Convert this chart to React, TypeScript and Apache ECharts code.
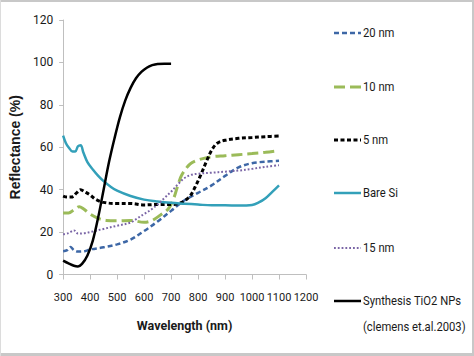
import React, { useEffect, useRef } from "react";
import * as echarts from "echarts";

// ---- Data (wavelength in nm, reflectance in %) ----
const nm20WL = [300, 315, 327, 340, 355, 380, 400, 450, 500, 550, 600, 650, 700, 750, 800, 850, 900, 950, 1000, 1050, 1100];
const nm20R = [11, 11.5, 13, 11.5, 10.8, 11, 11.8, 12.8, 14.2, 16.5, 20.5, 25, 30, 35, 38.5, 42, 46.5, 50.5, 52.5, 53.2, 53.6];

const nm10WL = [300, 320, 340, 360, 375, 400, 430, 460, 500, 550, 600, 630, 660, 690, 710, 725, 740, 770, 800, 850, 900, 950, 1000, 1050, 1100];
const nm10R = [29, 29, 30.5, 32, 31, 28.5, 26.5, 25.5, 25.3, 25.5, 24.6, 25.5, 28, 31, 36, 42, 47, 52, 54, 55.5, 56, 56.5, 57, 57.6, 58.4];

const nm5WL = [300, 315, 330, 350, 365, 380, 400, 420, 450, 500, 550, 600, 650, 700, 740, 770, 790, 810, 830, 850, 870, 900, 950, 1000, 1050, 1100];
const nm5R = [37, 36.5, 36.5, 38.5, 40, 39, 37.5, 35.5, 34, 33.5, 33.5, 32.8, 33, 33, 34, 37, 41.5, 47, 53, 58.5, 61.8, 63.3, 64.2, 64.6, 65, 65.3];

const bareWL = [300, 310, 320, 335, 345, 355, 365, 375, 390, 410, 430, 450, 475, 500, 550, 600, 650, 700, 750, 800, 850, 900, 950, 1000, 1025, 1050, 1075, 1100];
const bareR = [65.5, 62, 60, 58, 58, 60.5, 61, 57.5, 53, 49.5, 46.5, 44, 41.5, 39.5, 37, 35.3, 34.4, 33.8, 33.4, 33, 32.6, 32.6, 32.5, 32.8, 34, 36, 39, 42];

const nm15WL = [300, 320, 340, 355, 380, 400, 450, 500, 550, 575, 600, 625, 650, 675, 700, 725, 750, 775, 800, 850, 900, 950, 1000, 1050, 1100];
const nm15R = [19, 19.5, 20.8, 19.3, 19.5, 20, 21.5, 23, 24.5, 26.5, 28.5, 30.5, 33, 36, 39, 42.5, 45.5, 47, 47.5, 48, 48.5, 49, 49.8, 50.8, 51.5];

const tio2WL = [300, 320, 340, 355, 370, 390, 410, 430, 450, 470, 490, 510, 530, 550, 570, 590, 610, 630, 650, 675, 700];
const tio2R = [6.5, 5.2, 4.1, 3.8, 5, 9, 16, 27, 40, 53, 64, 74, 82, 88, 92.5, 95.5, 97.5, 98.7, 99.3, 99.4, 99.4];

const xTicks = { min: 300, max: 1200, interval: 100 };
const yTicks = { min: 0, max: 120, interval: 20 };

const zip = (xs: number[], ys: number[]) => xs.map((x, i) => [x, ys[i]]);

const SANS = "Roboto, 'Liberation Sans', sans-serif";
const WIDE = "'Liberation Sans', Arial, sans-serif";

type S = { name: string; wl: number[]; r: number[]; color: string; width: number; type: any; label: string[] };
const seriesDefs: S[] = [
  { name: "20 nm", wl: nm20WL, r: nm20R, color: "#3d67a6", width: 2.5, type: [5, 3], label: ["20 nm"] },
  { name: "10 nm", wl: nm10WL, r: nm10R, color: "#9bbb59", width: 3, type: [11, 5], label: ["10 nm"] },
  { name: "5 nm", wl: nm5WL, r: nm5R, color: "#000000", width: 3, type: [4, 2.5], label: ["5 nm"] },
  { name: "Bare Si", wl: bareWL, r: bareR, color: "#33a0b9", width: 2.5, type: "solid", label: ["Bare Si"] },
  { name: "15 nm", wl: nm15WL, r: nm15R, color: "#7a65a6", width: 2, type: [1.8, 2], label: ["15 nm"] },
  { name: "Synthesis TiO2 NPs (clemens et.al.2003)", wl: tio2WL, r: tio2R, color: "#000000", width: 2.5, type: "solid", label: ["Synthesis TiO2 NPs", "(clemens et.al.2003)"] },
];

const legendY = [33, 87, 140, 193, 248, 301];

export default function App() {
  const ref = useRef<HTMLDivElement>(null);
  useEffect(() => {
    if (!ref.current) return;
    const chart = echarts.init(ref.current, null, { renderer: "svg" });
    const legendGraphics: any[] = [];
    seriesDefs.forEach((s, i) => {
      const y = legendY[i];
      legendGraphics.push({
        type: "line",
        shape: { x1: 334, y1: y, x2: 361, y2: y },
        style: { stroke: s.color, lineWidth: s.width, lineDash: s.type === "solid" ? null : s.type },
      });
      s.label.forEach((t, j) => {
        legendGraphics.push({
          type: "text",
          x: 363,
          y: y + j * 26,
          scaleX: 0.9,
          style: { text: t, fill: "#1a1a1a", font: `12.5px ${SANS}`, verticalAlign: "middle", align: "left" },
        });
      });
    });
    const frame = [
      { type: "rect", shape: { x: 0, y: 0, width: 474, height: 2 }, style: { fill: "#c8c8c8" } },
      { type: "rect", shape: { x: 0, y: 353, width: 474, height: 3 }, style: { fill: "#c8c8c8" } },
      { type: "rect", shape: { x: 472, y: 0, width: 2, height: 356 }, style: { fill: "#c8c8c8" } },
      { type: "rect", shape: { x: 0, y: 0, width: 1, height: 356 }, style: { fill: "#dcdcdc" } },
    ];
    chart.setOption({
      animation: false,
      backgroundColor: "#ffffff",
      grid: { left: 61, right: 168, top: 20, bottom: 81.5, containLabel: false },
      xAxis: {
        type: "value",
        min: xTicks.min,
        max: xTicks.max,
        interval: xTicks.interval,
        name: "Wavelength (nm)",
        nameLocation: "middle",
        nameGap: 44,
        nameTextStyle: { fontFamily: SANS, fontWeight: "bold", fontSize: 12.5, color: "#1a1a1a" },
        axisLine: { lineStyle: { color: "#bfbfbf", width: 1 } },
        axisTick: { show: true, length: 5, lineStyle: { color: "#bfbfbf" } },
        axisLabel: {
          fontFamily: SANS,
          fontSize: 11,
          color: "#1a1a1a",
          margin: 17,
          showMinLabel: true,
          showMaxLabel: true,
          hideOverlap: false,
          formatter: (v: number) => String(v),
        },
        splitLine: { show: false },
      },
      yAxis: {
        type: "value",
        min: yTicks.min,
        max: yTicks.max,
        interval: yTicks.interval,
        name: "Reflectance (%)",
        nameLocation: "middle",
        nameGap: 29,
        nameRotate: 90,
        nameTextStyle: { fontFamily: WIDE, fontWeight: "bold", fontSize: 14, color: "#1a1a1a" },
        axisLine: { show: true, lineStyle: { color: "#bfbfbf", width: 1 } },
        axisTick: { show: true, length: 4, lineStyle: { color: "#bfbfbf" } },
        axisLabel: { fontFamily: SANS, fontSize: 12, color: "#1a1a1a", margin: 10, formatter: (v: number) => String(v) },
        splitLine: { show: false },
      },
      series: seriesDefs.map((s) => ({
        name: s.name,
        type: "line",
        data: zip(s.wl, s.r),
        smooth: 0.35,
        showSymbol: false,
        symbol: "none",
        lineStyle: { color: s.color, width: s.width, type: s.type },
        itemStyle: { color: s.color },
      })),
      graphic: [...frame, ...legendGraphics],
    });
    return () => chart.dispose();
  }, []);
  return <div ref={ref} style={{ position: "absolute", left: 0, top: 0, width: 474, height: 356, background: "#fff" }} />;
}
